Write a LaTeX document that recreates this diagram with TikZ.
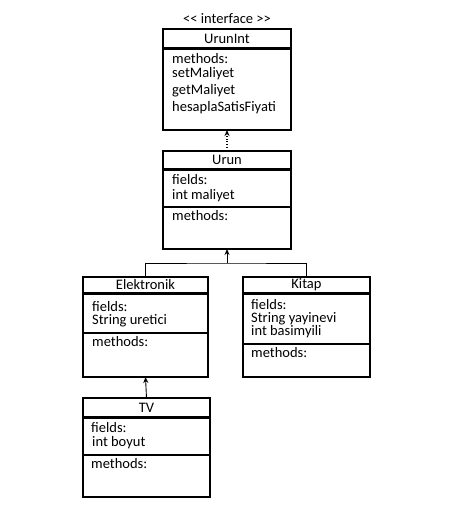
\documentclass[tikz,border=0pt]{standalone}
\usepackage{fontspec}
\setmainfont{Carlito}
\usetikzlibrary{arrows.meta}
\begin{document}
\begin{tikzpicture}[x=1pt,y=-1pt,
  box/.style={draw=black,line width=1.6pt,anchor=north west,inner sep=0pt,outer sep=0pt},
  ttl/.style={box,font=\fontsize{14.5}{16}\selectfont},
  txt/.style={anchor=west,inner sep=0pt,font=\fontsize{14.5}{16}\selectfont},
  mtxt/.style={anchor=north west,inner sep=0pt,align=left,font=\fontsize{14.5}{13}\selectfont},
  sep/.style={line width=3pt},
  arr/.style={line width=0.9pt,-{Stealth[length=6pt,width=5pt]}}]
\useasboundingbox[fill=white] (0,0) rectangle (463,509);
% interface label
\node[font=\fontsize{14.5}{16}\selectfont] (ilabel) at (227,19) {<{}< interface >{}>};
% UrunInt
\node[ttl,minimum width=128pt,minimum height=19pt] (uit) at (163,29) {UrunInt};
\node[box,minimum width=128pt,minimum height=82pt] (uib) at (163,48) {};
\draw[sep] (uit.south west) -- (uit.south east);
\node[txt] (ui1) at (172,59) {methods:};
\node[txt] (ui2) at (172,74) {setMaliyet};
\node[txt] (ui3) at (172,91) {getMaliyet};
\node[txt] (ui4) at (172,108) {hesaplaSatisFiyati};
% Urun
\node[ttl,minimum width=128pt,minimum height=18pt] (ut) at (163,151) {Urun};
\node[box,minimum width=128pt,minimum height=38pt] (uf) at (163,169) {};
\node[box,minimum width=128pt,minimum height=42pt] (um) at (163,207) {};
\draw[sep] (ut.south west) -- (ut.south east);
\node[txt] (u1) at (172,180) {fields:};
\node[txt] (u2) at (172,196) {int maliyet};
\node[txt] (u3) at (172,216) {methods:};
% Elektronik
\node[ttl,minimum width=125pt,minimum height=16pt] (et) at (83,277) {Elektronik};
\node[box,minimum width=125pt,minimum height=40pt] (ef) at (83,293) {};
\node[box,minimum width=125pt,minimum height=44pt] (em) at (83,333) {};
\draw[sep] (et.south west) -- (et.south east);
\node[mtxt] (e1) at (92,301) {fields:\\String uretici};
\node[txt] (e3) at (92,342) {methods:};
% Kitap
\node[ttl,minimum width=127pt,minimum height=16pt] (kt) at (243,277) {Kitap};
\node[box,minimum width=127pt,minimum height=51pt] (kf) at (243,293) {};
\node[box,minimum width=127pt,minimum height=33pt] (km) at (243,344) {};
\draw[sep] (kt.south west) -- (kt.south east);
\node[mtxt] (k1) at (251,299.5) {fields:\\String yayinevi\\int basimyili};
\node[txt] (k4) at (251,353) {methods:};
% TV
\node[ttl,minimum width=127pt,minimum height=19pt] (tt) at (83,398) {TV};
\node[box,minimum width=127pt,minimum height=38pt] (tf) at (83,417) {};
\node[box,minimum width=127pt,minimum height=42pt] (tm) at (83,455) {};
\draw[sep] (tt.south west) -- (tt.south east);
\node[txt] (t1) at (91,428) {fields:};
\node[txt] (t2) at (92,443) {int boyut};
\node[txt] (t3) at (91,464) {methods:};
% connectors
\draw[arr,dotted,line width=1.2pt] (ut.north) -- (uib.south);
\coordinate (j) at (227,263);
\draw[line width=1pt] (et.north) |- (j) -| (kt.north);
\draw[arr] (j) -- (um.south);
\draw[arr] (tt.north) -- (em.south);
\end{tikzpicture}
\end{document}
